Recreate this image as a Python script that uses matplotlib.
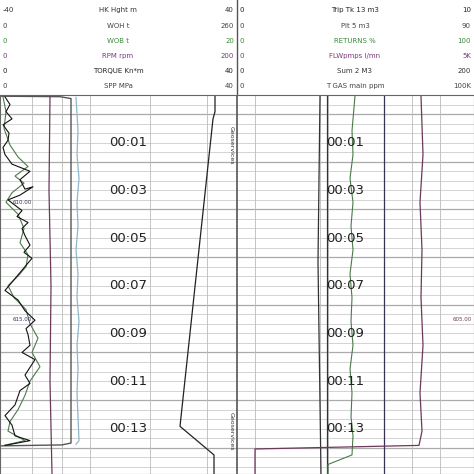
import numpy as np
import matplotlib
matplotlib.use("Agg")
import matplotlib.pyplot as plt

# header rows: (left min, name, right max, colour)
left_hdr = [("-40", "HK Hght m", "40", "#333333"),
            ("0", "WOH t", "260", "#444444"),
            ("0", "WOB t", "20", "#3a8a3a"),
            ("0", "RPM rpm", "200", "#7a3a7a"),
            ("0", "TORQUE Kn*m", "40", "#222222"),
            ("0", "SPP MPa", "40", "#444444")]
right_hdr = [("0", "Trip Tk 13 m3", "10", "#222222"),
             ("0", "Pit 5 m3", "90", "#444444"),
             ("0", "RETURNS %", "100", "#3a8a3a"),
             ("0", "FLWpmps l/mn", "5K", "#7a3a7a"),
             ("0", "Sum 2 M3", "200", "#333333"),
             ("0", "T GAS main ppm", "100K", "#444444")]
row_y = [7, 23, 38, 53, 68, 83]

time_labels = ["00:01", "00:03", "00:05", "00:07", "00:09", "00:11", "00:13"]
time_vals = [1, 3, 5, 7, 9, 11, 13]

# curves, track position (0-474 chart units) vs time (min)
blk_t = [-0.92, -0.6, -0.3, 0.0, 0.25, 0.6, 0.9, 1.2, 1.5, 1.9, 2.2, 2.55, 2.95, 2.85, 3.2, 3.4, 3.85,
         4.1, 4.35, 4.6, 4.9, 5.3, 5.6, 5.85, 6.35, 7.2, 7.6, 8.05, 8.45, 8.8, 9.05, 9.5, 9.8, 10.1, 10.75,
         11.1, 11.4, 12.0, 12.45, 12.85, 13.3, 13.5, 13.7]
blk_x = [5, 10, 6, 12, 3, 9, 8, 3, 5, 12, 30, 20, 25, 33, 20, 8, 22, 17, 28, 22, 25, 30, 24, 32, 22, 5, 18,
         25, 35, 26, 28, 30, 22, 35, 25, 30, 20, 15, 5, 12, 15, 30, 5]
grn_t = [-0.92, -0.3, 0.4, 1.1, 1.6, 2.0, 2.4, 2.7, 3.1, 3.5, 4.0, 4.6, 5.2, 5.7,
         6.2, 6.6, 7.0, 7.5, 8.0, 8.6, 9.2, 9.8, 10.4, 11.0, 11.6, 12.2, 12.7,
         13.1, 13.5, 13.7]
grn_x = [3, 6, 4, 10, 18, 28, 15, 24, 12, 6, 18, 24, 20, 28, 26, 18, 8, 14, 26,
         30, 38, 32, 40, 30, 25, 18, 10, 8, 25, 4]
hk_t = [-0.95, -0.93, -0.85, 13.6, 13.68, 13.72, 14.9]
hk_x = [0, 60, 71, 71, 62, 0, 0]
blue_t = [-0.9, 0.5, 1.5, 2.5, 3.5, 4.5, 5.5, 6.5, 7.5, 8.5, 9.5, 10.5, 11.5, 12.5, 13.5, 13.65]
blue_x = [76, 78, 77, 79, 77, 78, 76, 78, 77, 79, 77, 78, 77, 78, 79, 76]
purp_t = [-0.95, 3.0, 7.0, 11.0, 14.9]
purp_x = [50, 49, 51, 50, 52]
pit_t = [-0.95, -0.3, 0.0, 12.9, 14.1, 14.9]
pit_x = [215, 215, 213, 180, 214, 214]
trip_t = [-0.95, 6.0, 14.9]
trip_x = [320, 318, 321]
grn2_t = [-0.95, 0.5, 1.5, 2.5, 3.5, 4.5, 5.5, 6.5, 7.5, 8.5, 9.5, 10.5, 11.5, 12.5, 13.3, 14.1, 14.5, 14.9]
grn2_x = [355, 352, 353, 350, 353, 351, 353, 350, 352, 351, 353, 350, 352, 351, 353, 352, 328, 328]
gas_t = [-0.95, 1.5, 3.5, 5.5, 7.5, 9.5, 11.5, 13.1, 13.7, 13.85, 14.9]
gas_x = [421, 423, 420, 422, 421, 423, 420, 422, 419, 255, 255]

fig = plt.figure(figsize=(4.74, 4.74), dpi=100)
hdr = fig.add_axes([0, 1 - 95 / 474, 1, 95 / 474])
hdr.set_xlim(0, 474)
hdr.set_ylim(95, 0)
hdr.axis("off")
for xo, rows in ((0, left_hdr), (237, right_hdr)):
    for y, (lo, name, hi, c) in zip(row_y, rows):
        hdr.text(xo + 3, y + 3, lo, fontsize=5, color=c, va="center", ha="left")
        hdr.text(xo + 118, y + 3, name, fontsize=5, color=c, va="center", ha="center")
        hdr.text(xo + 234, y + 3, hi, fontsize=5, color=c, va="center", ha="right")
hdr.axvline(237, color="#555555", lw=1.0)

ax = fig.add_axes([0, 0, 1, 1 - 95 / 474])
ax.set_xlim(0, 474)
ax.set_ylim(14.9, -1.0)
ax.set_xticks([])
ax.set_yticks([])
for s in ax.spines.values():
    s.set_color("#666666")

for yy in np.arange(-1.0, 15.0, 0.4):
    ax.axhline(yy, color="#cccccc", lw=0.6, zorder=0)
for yy in np.arange(-0.2, 15.0, 2.0):
    ax.axhline(yy, color="#aaaaaa", lw=0.9, zorder=0)
for xx in [32, 62, 90, 150, 207, 255, 320, 328, 384, 412, 440]:
    ax.axvline(xx, color="#bbbbbb", lw=0.6, zorder=0)
ax.axvline(237, color="#555555", lw=1.2)
ax.axvline(384, color="#333355", lw=0.9)
ax.axvline(327, color="#333333", lw=0.9)

ax.plot(hk_x, hk_t, color="#555555", lw=1.0)
ax.plot(blue_x, blue_t, color="#8fb8c8", lw=0.9)
ax.plot(purp_x, purp_t, color="#6a3a5a", lw=0.9)
ax.plot(grn_x, grn_t, color="#4a7a4a", lw=0.8)
ax.plot(blk_x, blk_t, color="#111111", lw=0.8)
ax.plot(pit_x, pit_t, color="#222222", lw=0.9)
ax.plot(trip_x, trip_t, color="#333333", lw=0.9)
ax.plot(grn2_x, grn2_t, color="#4a7a4a", lw=0.8)
ax.plot(gas_x, gas_t, color="#6a3a5a", lw=0.9)

for t, lab in zip(time_vals, time_labels):
    ax.text(128, t, lab, fontsize=9.5, ha="center", va="center", color="#222222")
    ax.text(345, t, lab, fontsize=9.5, ha="center", va="center", color="#222222")
for t in (1.1, 13.1):
    ax.text(231, t, "Geoservices", fontsize=4.5, rotation=-90, ha="center", va="center", color="#333333")
ax.text(22, 3.5, "610.00", fontsize=4, color="#333355", ha="center", va="center")
ax.text(22, 8.4, "615.00", fontsize=4, color="#333355", ha="center", va="center")
ax.text(462, 8.4, "605.00", fontsize=4, color="#6a3a5a", ha="center", va="center")

fig.savefig("out.png", dpi=100)
